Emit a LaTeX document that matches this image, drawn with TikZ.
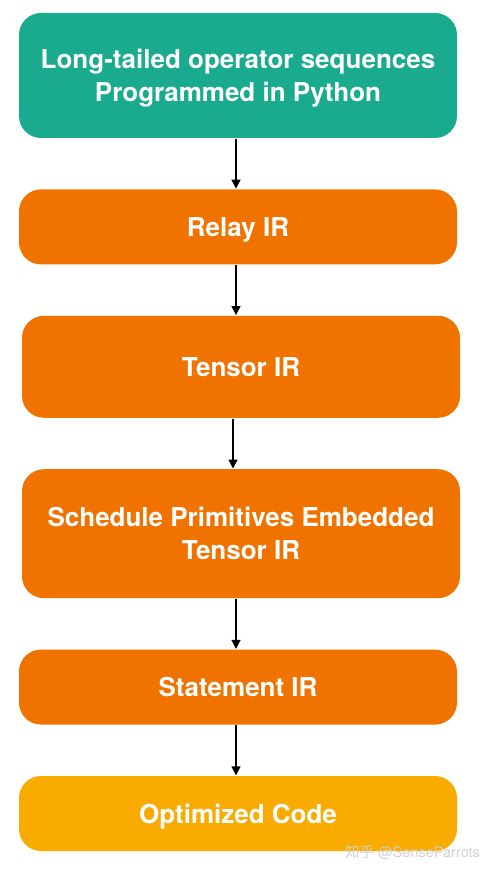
\documentclass[tikz,border=0pt]{standalone}
\usepackage{fontspec}
\setmainfont{TeX Gyre Heros}
\newfontfamily\cjk{Noto Sans CJK SC}
\usepackage{tikz}
\usetikzlibrary{arrows.meta, positioning}
\definecolor{tealbox}{RGB}{26,170,142}
\definecolor{orangebox}{RGB}{240,115,0}
\definecolor{yellowbox}{RGB}{250,171,0}

\begin{document}
\begin{tikzpicture}[->,>={Triangle[width=9pt,length=9pt]},line width=1.4pt,
        node distance=50pt,
        stage/.style={rectangle,rounded corners=22pt,draw=none,minimum width=438pt,
          align=center,text=white,text depth=0pt,font=\fontsize{26}{33}\selectfont\bfseries}]
    \useasboundingbox (0pt,0pt) rectangle (496pt,-874pt);
    \node[stage, fill=tealbox, minimum height=125pt] (src) at (238pt,-75.5pt)
      {Long-tailed operator sequences\\Programmed in Python};
    \node[stage, fill=orangebox, minimum height=75pt] (relay) [below=of src] {Relay IR};
    \node[stage, fill=orangebox, minimum height=102pt] (tensor) [below=of relay, xshift=3pt] {Tensor IR};
    \node[stage, fill=orangebox, minimum height=129pt] (sched) [below=of tensor]
      {Schedule Primitives Embedded\\Tensor IR};
    \node[stage, fill=orangebox, minimum height=75pt] (stmt) [below=of sched, xshift=-3pt] {Statement IR};
    \node[stage, fill=yellowbox, minimum height=75pt] (code) [below=of stmt] {Optimized Code};
    % watermark
    \node[text=black!18, font=\fontsize{14.5}{17}\selectfont, anchor=east] (mark) at (484pt,-852pt)
      {{\cjk 知乎} @SenseParrots};
    \path[->]
      ([xshift=-2pt]src.south) edge ([xshift=-2pt]src.south |- relay.north)
      ([xshift=-2pt]relay.south) edge ([xshift=-2pt]relay.south |- tensor.north)
      ([xshift=-8pt]tensor.south) edge ([xshift=-8pt]tensor.south |- sched.north)
      ([xshift=-5pt]sched.south) edge ([xshift=-5pt]sched.south |- stmt.north)
      ([xshift=-2pt]stmt.south) edge ([xshift=-2pt]stmt.south |- code.north);
  \end{tikzpicture}
\end{document}
